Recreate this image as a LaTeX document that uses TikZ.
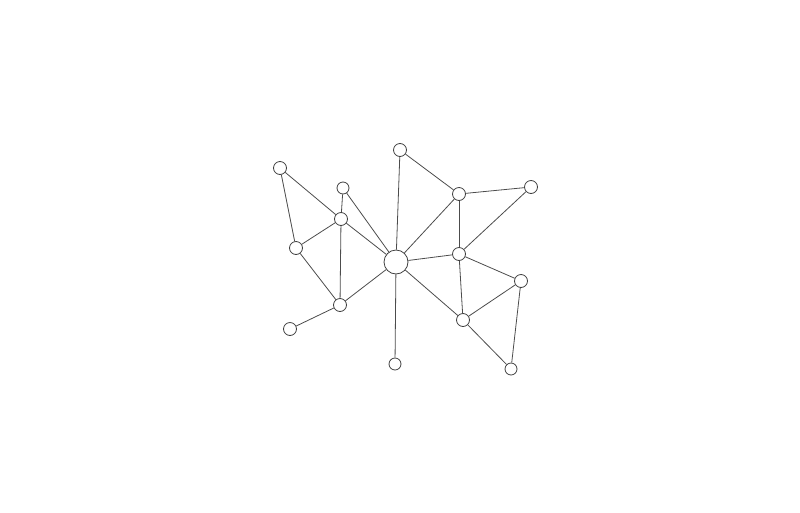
\documentclass[tikz,border=0pt]{standalone}
\usepackage{tikz}

\begin{document}
\begin{tikzpicture}[x=1pt, y=-1pt,
        node_style/.style={circle,draw=black!75,fill=white,line width=0.8pt,inner sep=0pt,minimum size=13pt},
        small_node_style/.style={node_style,minimum size=12pt},
        hub_node_style/.style={node_style,minimum size=24pt},
        edge_style/.style={draw=black!70, line width=0.8pt}]

        \useasboundingbox (0,0) rectangle (800,512);

        \node [hub_node_style](hub) at (396,262) {};

        \node [node_style](n1) at (280,168) {};

        \node [small_node_style](n2) at (343,188) {};

        \node [node_style](n3) at (341,219) {};

        \node [node_style](n4) at (296,248) {};

        \node [node_style](n5) at (340,305) {};

        \node [node_style](n6) at (290,329) {};

        \node [node_style](n7) at (400,150) {};

        \node [node_style](n8) at (459,194) {};

        \node [node_style](n9) at (531,187) {};

        \node [node_style](n10) at (459,254) {};

        \node [node_style](n11) at (521,281) {};

        \node [node_style](n12) at (463,320) {};

        \node [small_node_style](n13) at (511,369) {};

        \node [small_node_style](n14) at (395,364) {};

        \draw [edge_style] (n1) edge (n3);

        \draw [edge_style] (n1) edge (n4);

        \draw [edge_style] (n2) edge (n3);

        \draw [edge_style] (n2) edge (hub);

        \draw [edge_style] (n3) edge (n4);

        \draw [edge_style] (n3) edge (n5);

        \draw [edge_style] (n3) edge (hub);

        \draw [edge_style] (n4) edge (n5);

        \draw [edge_style] (n5) edge (hub);

        \draw [edge_style] (n5) edge (n6);

        \draw [edge_style] (n7) edge (hub);

        \draw [edge_style] (n7) edge (n8);

        \draw [edge_style] (n8) edge (hub);

        \draw [edge_style] (n8) edge (n9);

        \draw [edge_style] (n8) edge (n10);

        \draw [edge_style] (n9) edge (n10);

        \draw [edge_style] (n10) edge (hub);

        \draw [edge_style] (n10) edge (n11);

        \draw [edge_style] (n10) edge (n12);

        \draw [edge_style] (n11) edge (n12);

        \draw [edge_style] (n11) edge (n13);

        \draw [edge_style] (n12) edge (n13);

        \draw [edge_style] (n12) edge (hub);

        \draw [edge_style] (hub) edge (n14);

        \end{tikzpicture}
\end{document}
